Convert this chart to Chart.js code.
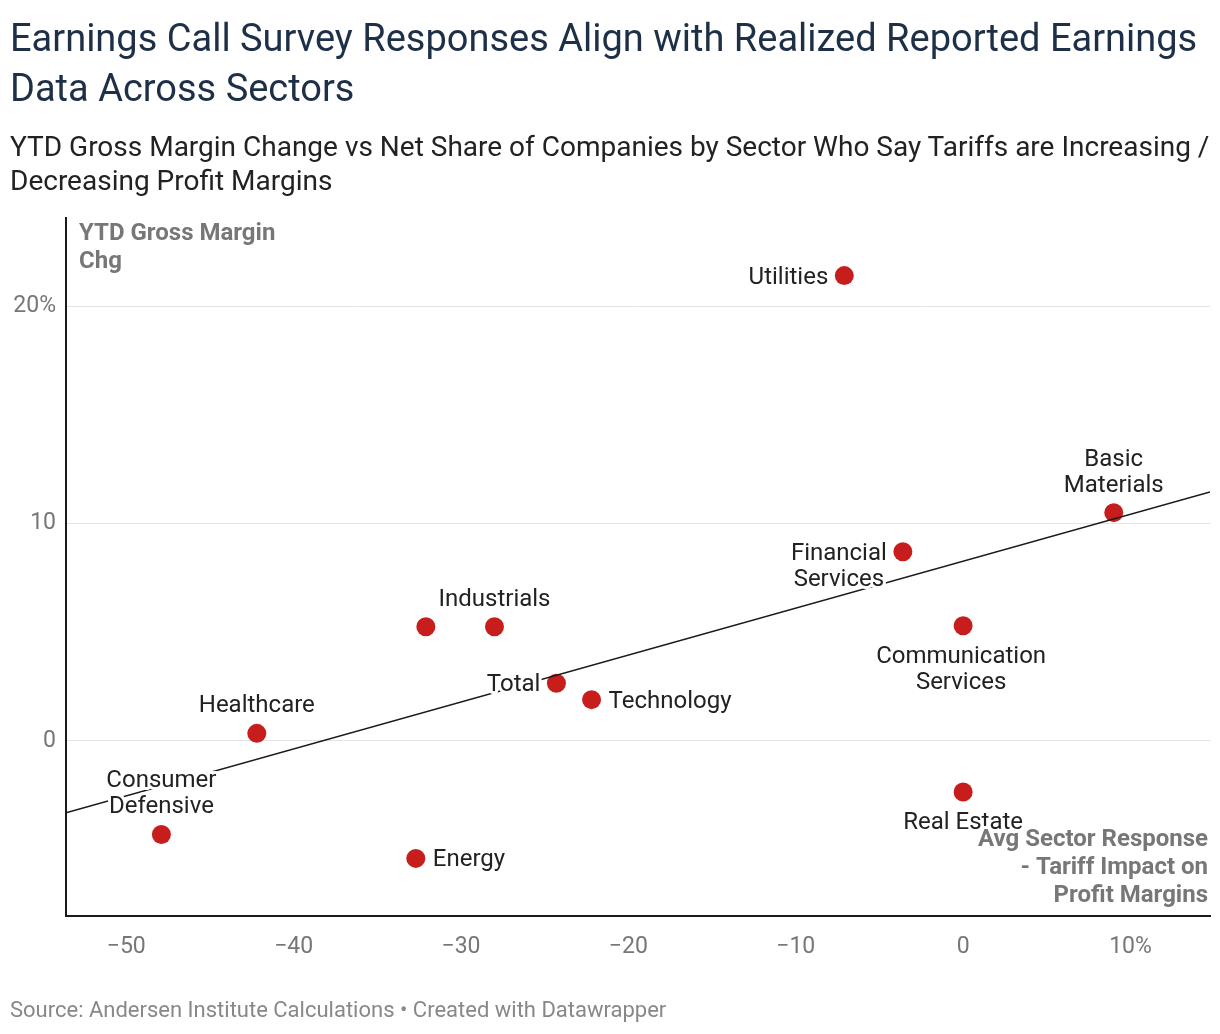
<!DOCTYPE html>
<html><head><meta charset="utf-8">
<script src="https://cdn.jsdelivr.net/npm/chart.js@4/dist/chart.umd.min.js"></script>
<style>
html,body{margin:0;padding:0;background:#fff;}
#wrap{position:relative;width:1220px;height:1034px;overflow:hidden;font-family:Roboto,sans-serif;}
#title{position:absolute;left:10px;top:13px;font-size:38px;line-height:50px;color:#1d3048;white-space:nowrap;}
#subtitle{position:absolute;left:10px;top:130px;font-size:28px;line-height:34px;color:#222;white-space:nowrap;}
#footer{position:absolute;left:10px;top:998px;font-size:22px;line-height:24px;color:#888;white-space:nowrap;}
canvas{position:absolute;left:0;top:0;}
</style></head>
<body>
<div id="wrap">
<canvas id="c" width="1220" height="1034"></canvas>
<div id="title">Earnings Call Survey Responses Align with Realized Reported Earnings<br>Data Across Sectors</div>
<div id="subtitle">YTD Gross Margin Change vs Net Share of Companies by Sector Who Say Tariffs are Increasing /<br>Decreasing Profit Margins</div>
<div id="footer">Source: Andersen Institute Calculations • Created with Datawrapper</div>
</div>
<script>
// ---- data ----
const sectors = ['Utilities','Basic Materials','Financial Services','Communication Services','Industrials','Consumer Cyclical','Total','Technology','Healthcare','Consumer Defensive','Energy','Real Estate'];
const tariffResponse = [-7.1, 9.0, -3.6, 0.0, -28.0, -32.1, -24.3, -22.2, -42.2, -47.9, -32.7, 0.0];
const grossMarginChg = [21.4, 10.5, 8.7, 5.3, 5.25, 5.25, 2.65, 1.9, 0.35, -4.3, -5.4, -2.35];
const trendX = [-53.6, 14.75];
const trendY = [-3.3, 11.45];
const xTicks = [-50, -40, -30, -20, -10, 0, 10];
const yTicks = [0, 10, 20];

// ---- label layout (style) ----
const labelLayout = {
  'Utilities': {pos:'left'},
  'Basic Materials': {pos:'top', lines:['Basic','Materials']},
  'Financial Services': {pos:'left', align:'center', dx:-48, lines:['Financial','Services']},
  'Communication Services': {pos:'bottom', lines:['Communication','Services'], dx:-2},
  'Industrials': {pos:'top'},
  'Total': {pos:'left'},
  'Technology': {pos:'right'},
  'Healthcare': {pos:'top'},
  'Consumer Defensive': {pos:'top', lines:['Consumer','Defensive']},
  'Energy': {pos:'right'},
  'Real Estate': {pos:'bottom'}
};

const fmtMinus = v => (v < 0 ? '\u2212' + Math.abs(v) : String(v));

const labelPlugin = {
  id: 'labels',
  afterDatasetsDraw(chart) {
    const ctx = chart.ctx;
    const meta = chart.getDatasetMeta(1);
    ctx.save();
    ctx.font = '24px Roboto';
    ctx.lineJoin = 'round';
    ctx.textBaseline = 'middle';
    const lh = 26;
    sectors.forEach((name, i) => {
      const L = labelLayout[name];
      if (!L) return;
      const p = meta.data[i];
      const lines = L.lines || [name];
      let x = p.x, y = p.y + 2, align = 'center', ys;
      if (L.pos === 'top') { ys = lines.map((_, k) => y - 29 - (lines.length - 1 - k) * lh); }
      else if (L.pos === 'bottom') { ys = lines.map((_, k) => y + 29 + k * lh); }
      else if (L.pos === 'left') { align = 'right'; x -= 16; ys = lines.map((_, k) => y + k * lh); }
      else { align = 'left'; x += 17; ys = lines.map((_, k) => y + k * lh); }
      if (L.align) align = L.align;
      if (L.dx) x += L.dx;
      ctx.textAlign = align;
      lines.forEach((t, k) => {
        ctx.strokeStyle = '#fff'; ctx.lineWidth = 6; ctx.strokeText(t, x, ys[k]);
        ctx.fillStyle = '#222'; ctx.fillText(t, x, ys[k]);
      });
    });
    // axis titles
    const a = chart.chartArea;
    ctx.font = 'bold 24px Roboto';
    ctx.fillStyle = '#777';
    ctx.textAlign = 'left';
    ['YTD Gross Margin', 'Chg'].forEach((t, k) => {
      const yy = a.top + 16 + k * 28;
      ctx.strokeStyle = '#fff'; ctx.lineWidth = 6; ctx.strokeText(t, a.left + 13, yy);
      ctx.fillText(t, a.left + 13, yy);
    });
    ctx.textAlign = 'right';
    ['Avg Sector Response', '- Tariff Impact on', 'Profit Margins'].forEach((t, k) => {
      const yy = a.bottom - 76 + k * 28;
      ctx.strokeStyle = '#fff'; ctx.lineWidth = 6; ctx.strokeText(t, a.right - 2, yy);
      ctx.fillText(t, a.right - 2, yy);
    });
    ctx.restore();
  }
};

new Chart(document.getElementById('c'), {
  type: 'scatter',
  data: {
    datasets: [
      {
        type: 'line',
        data: trendX.map((x, i) => ({x, y: trendY[i]})),
        borderColor: '#1a1a1a', borderWidth: 1.6, pointRadius: 0, fill: false, order: 0
      },
      {
        data: tariffResponse.map((x, i) => ({x, y: grossMarginChg[i]})),
        backgroundColor: '#c71e1d', borderWidth: 0, pointRadius: 9.5, pointHoverRadius: 9.5, order: 1
      }
    ]
  },
  options: {
    responsive: false,
    animation: false,
    events: [],
    layout: {padding: {left: 0, top: 218, right: 10, bottom: 68}},
    plugins: {legend: {display: false}, tooltip: {enabled: false}, title: {display: false}},
    scales: {
      x: {
        type: 'linear', min: -53.6, max: 14.75,
        afterFit(s) { s.height = 50; },
        afterBuildTicks(s) { s.ticks = xTicks.map(v => ({value: v})); },
        grid: {display: true, color: 'rgba(0,0,0,0)', drawTicks: false},
        border: {display: true, color: '#1a1a1a', width: 2},
        ticks: {padding: 17, color: '#777', font: {family: 'Roboto', size: 23},
          maxRotation: 0, autoSkip: false,
          callback: v => (v === 10 ? '10%' : fmtMinus(v))}
      },
      y: {
        type: 'linear', min: -8.05, max: 24.05,
        afterFit(s) { s.width = 66; },
        afterBuildTicks(s) { s.ticks = yTicks.map(v => ({value: v})); },
        grid: {display: true, color: '#e3e3e3', lineWidth: 1, drawTicks: false},
        border: {display: true, color: '#1a1a1a', width: 2},
        ticks: {padding: 10, color: '#777', font: {family: 'Roboto', size: 23},
          autoSkip: false,
          callback: v => (v === 20 ? '20%' : fmtMinus(v))}
      }
    }
  },
  plugins: [labelPlugin]
});
</script>
</body></html>
